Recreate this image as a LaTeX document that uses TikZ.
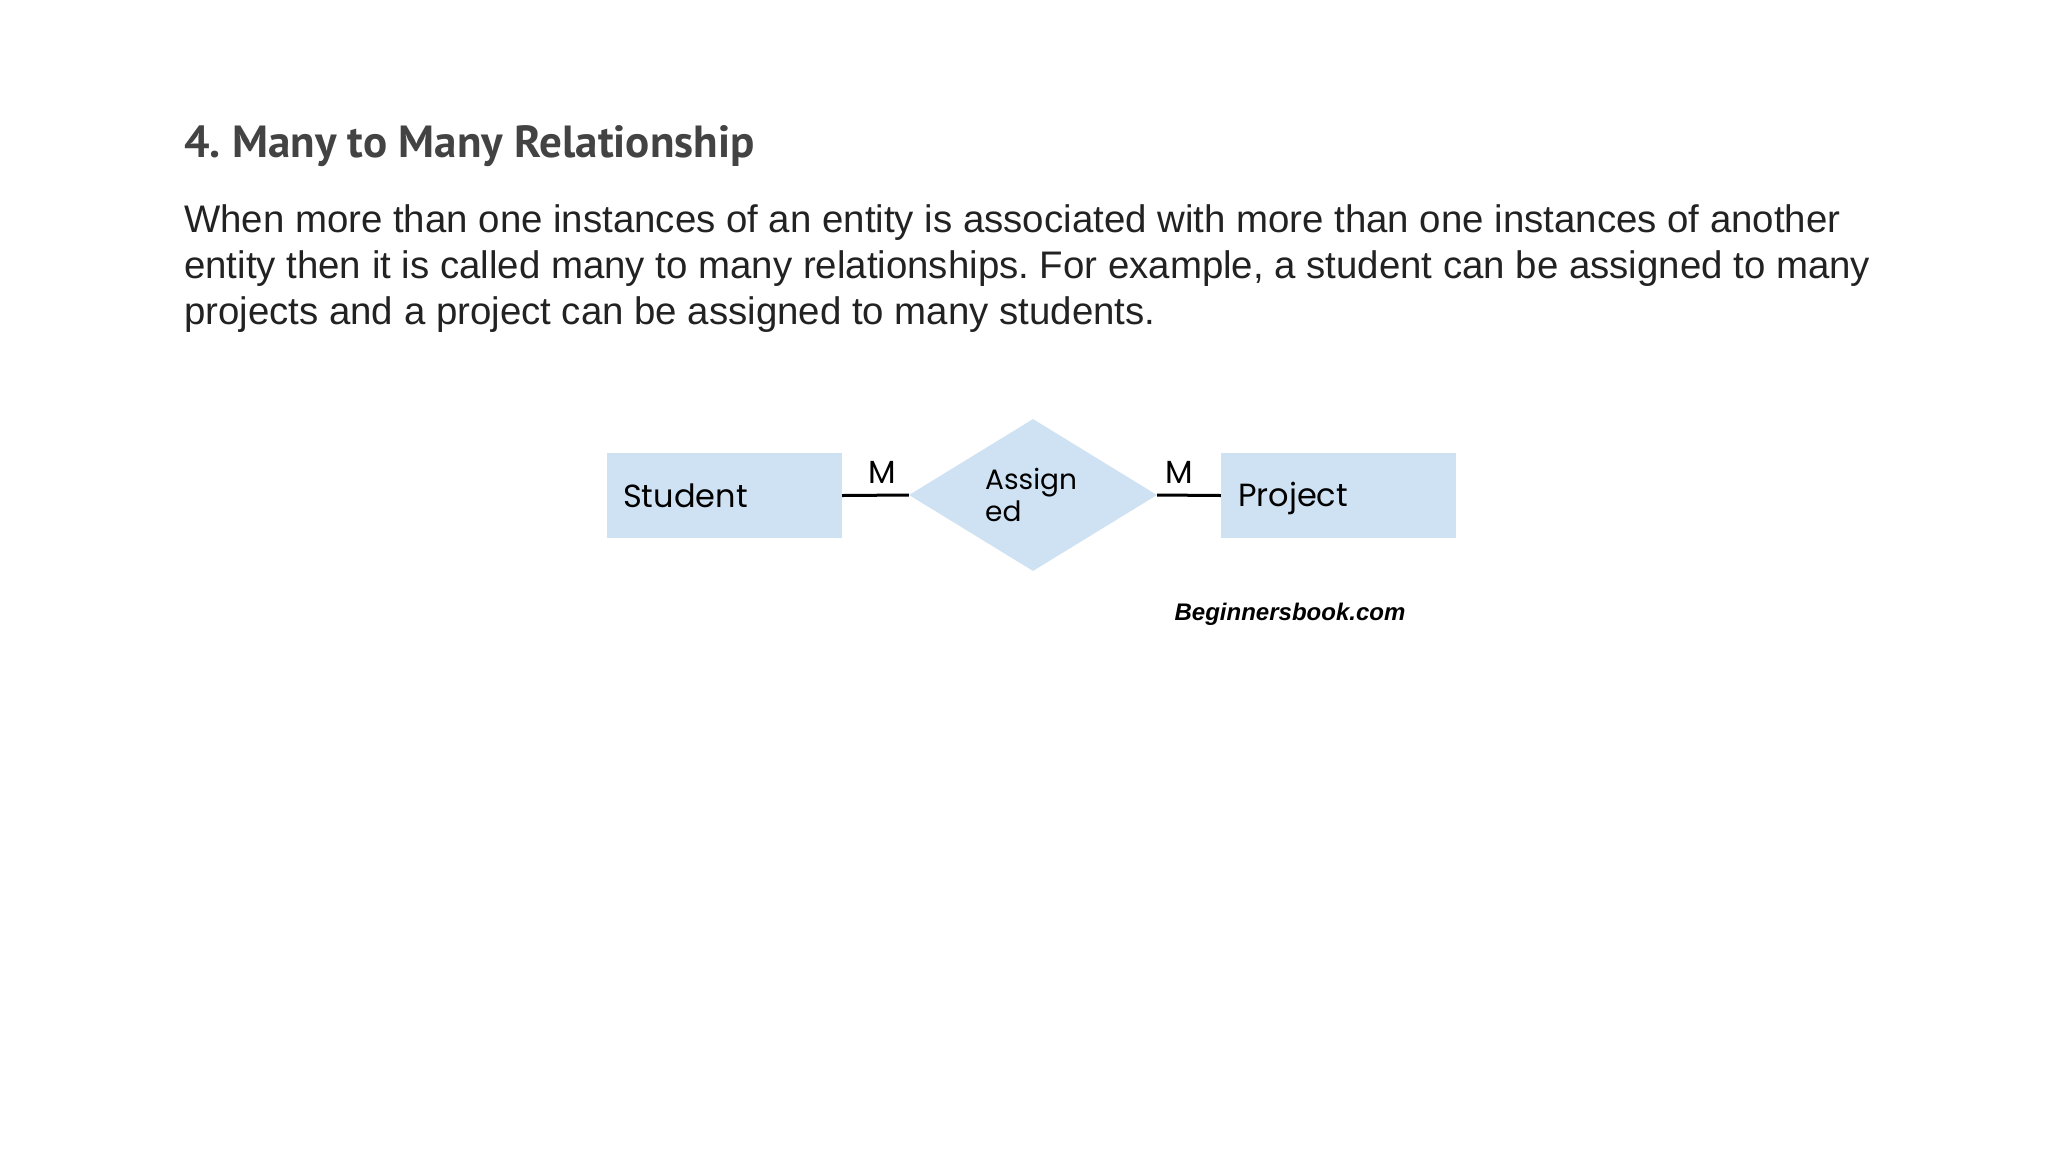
\documentclass[tikz,border=0pt]{standalone}
\usepackage{fontspec}
\setmainfont{Liberation Sans}
\newfontfamily\titlefont{PT Sans}
\newfontfamily\erfont{Poppins}
\usetikzlibrary{shapes.geometric}
\definecolor{erfill}{HTML}{CFE2F3}
\definecolor{titlegray}{HTML}{434343}
\definecolor{bodytext}{HTML}{222222}
\frenchspacing
\tikzset{
  ent/.style={rectangle,fill=erfill,minimum width=235pt,minimum height=85pt,inner sep=0pt},
  rel/.style={diamond,fill=erfill,minimum width=248pt,minimum height=152pt,inner sep=0pt},
  lbl/.style={font=\erfont\fontsize{32}{34}\selectfont,text=black,inner sep=0pt},
  body/.style={anchor=base west,font=\fontsize{38.4}{42}\selectfont,text=bodytext,inner sep=0pt},
  conn/.style={line width=3pt,black}
}
\begin{document}
\begin{tikzpicture}[x=1pt,y=-1pt]
\useasboundingbox[fill=white] (0,0) rectangle (2048,1152);
\node[anchor=base west,inner sep=0pt,text=titlegray,font=\titlefont\bfseries\fontsize{45}{48}\selectfont] (title) at (184,157) {4. Many to Many Relationship};
\node[body] (l1) at (184,232) {When more than one instances of an entity is associated with more than one instances of another};
\node[body] (l2) at (184,278) {entity then it is called many to many relationships. For example, a student can be assigned to many};
\node[body] (l3) at (184,324) {projects and a project can be assigned to many students.};
\node[ent] (s) at (724.5,495.5) {};
\node[lbl,anchor=west] (st) at (623,496) {Student};
\node[ent] (p) at (1338.5,495.5) {};
\node[lbl,anchor=west] (pt) at (1238,498) {Project};
\node[rel] (r) at (1033,495) {};
\node[lbl,anchor=west,align=left,font=\erfont\fontsize{28}{32}\selectfont] (rt) at (985,495) {Assign\\ed};
\draw[conn] (s.east) -- (r.west) node[lbl,pos=0.6,above=10pt] (m1) {M};
\draw[conn] (r.east) -- (p.west) node[lbl,pos=0.35,above=10pt] (m2) {M};
\node[font=\bfseries\itshape\fontsize{24}{26}\selectfont,text=black,inner sep=0pt] (wm) at (1290,614) {Beginnersbook.com};
\end{tikzpicture}
\end{document}
